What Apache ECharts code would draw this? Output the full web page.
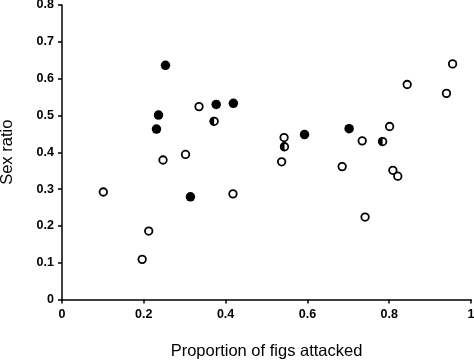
<!DOCTYPE html>
<html>
<head>
<meta charset="utf-8">
<script src="https://cdn.jsdelivr.net/npm/echarts@6/dist/echarts.min.js"></script>
<style>html,body{margin:0;padding:0;background:#fff}#c{width:474px;height:361px}</style>
</head>
<body>
<div id="c"></div>
<script>
// Open circles
const openPts = [
  [0.101, 0.292], [0.212, 0.186], [0.196, 0.109], [0.247, 0.379], [0.302, 0.394],
  [0.335, 0.524], [0.418, 0.287], [0.543, 0.440], [0.537, 0.374], [0.685, 0.361],
  [0.734, 0.431], [0.741, 0.224], [0.801, 0.470], [0.809, 0.351], [0.821, 0.335],
  [0.844, 0.584], [0.940, 0.560], [0.955, 0.640]
];
// Filled circles
const filledPts = [
  [0.253, 0.636], [0.236, 0.501], [0.231, 0.463], [0.377, 0.530], [0.419, 0.533],
  [0.314, 0.279], [0.593, 0.448], [0.702, 0.464]
];
// Half-filled circles
const halfPts = [
  [0.372, 0.484], [0.544, 0.415], [0.784, 0.429]
];
const xTicks = [0, 0.2, 0.4, 0.6, 0.8, 1];
const yTicks = [0, 0.1, 0.2, 0.3, 0.4, 0.5, 0.6, 0.7, 0.8];

const font = 'Liberation Sans, Arial, sans-serif';
const chart = echarts.init(document.getElementById('c'), null, {renderer: 'canvas'});
const axisCommon = {
  axisLine: {show: true, onZero: false, lineStyle: {color: '#000', width: 1.5}},
  axisTick: {show: true, inside: false, length: 4, lineStyle: {color: '#000', width: 1.5}},
  splitLine: {show: false},
  axisLabel: {color: '#000', fontFamily: font, fontSize: 12.5, fontWeight: 'bold'},
  nameTextStyle: {color: '#000', fontFamily: font, fontSize: 16.5}
};
chart.setOption({
  animation: false,
  backgroundColor: '#fff',
  grid: {left: 62, right: 3, top: 5, bottom: 61.5, containLabel: false, outerBoundsMode: 'none'},
  xAxis: Object.assign({}, axisCommon, {
    type: 'value', min: 0, max: 1, interval: 0.2,
    name: 'Proportion of figs attacked', nameLocation: 'middle', nameGap: 43,
    axisLabel: Object.assign({}, axisCommon.axisLabel, {margin: 9,
      formatter: v => xTicks.includes(+v.toFixed(2)) ? String(+v.toFixed(2)) : ''})
  }),
  yAxis: Object.assign({}, axisCommon, {
    type: 'value', min: 0, max: 0.8, interval: 0.1,
    name: 'Sex ratio', nameLocation: 'middle', nameGap: 46,
    axisLabel: Object.assign({}, axisCommon.axisLabel, {margin: 8,
      formatter: v => { const r = +v.toFixed(2); return yTicks.includes(r) ? String(r) : ''; }})
  }),
  series: [
    {type: 'scatter', data: openPts.concat(halfPts), symbol: 'circle', symbolSize: 7.5,
      itemStyle: {color: '#fff', borderColor: '#000', borderWidth: 1.8, opacity: 1}},
    {type: 'scatter', data: filledPts, symbol: 'circle', symbolSize: 9.5,
      itemStyle: {color: '#000', opacity: 1}},
    {type: 'scatter', data: halfPts, symbol: 'path://M10,0 A10,10 0 0,0 10,20 Z',
      symbolSize: [4.6, 9.2], symbolOffset: [-2.3, 0],
      itemStyle: {color: '#000', opacity: 1}}
  ]
});
</script>
</body>
</html>
